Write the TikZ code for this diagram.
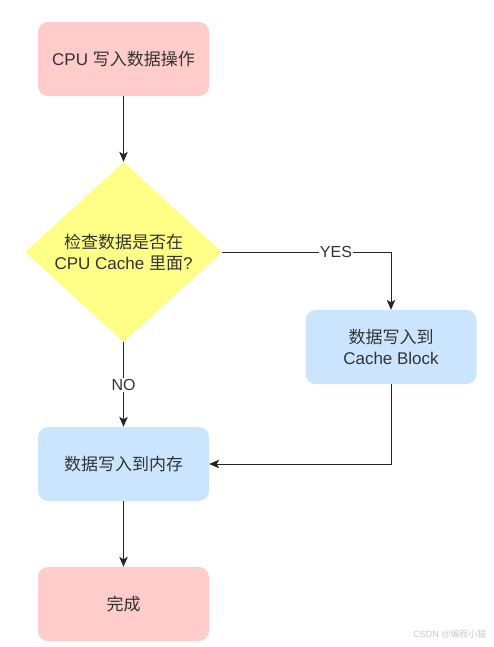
\documentclass[tikz,border=0pt]{standalone}
\usepackage{fontspec}
\setmainfont{Liberation Sans}
\newfontfamily\cjk{Noto Sans CJK SC}
\usetikzlibrary{shapes.geometric,arrows.meta}
\definecolor{pinkfill}{HTML}{FFCCCC}
\definecolor{bluefill}{HTML}{CCE5FF}
\definecolor{yellowfill}{HTML}{FFFF88}
\definecolor{txt}{HTML}{333333}
\definecolor{wm}{HTML}{C8C8C8}
\begin{document}
\begin{tikzpicture}[x=1pt,y=-1pt,
  box/.style={rectangle,rounded corners=10pt,minimum width=171pt,minimum height=74pt,inner sep=0pt,align=center,text=txt,font=\fontsize{17}{21}\selectfont},
  pinkbox/.style={box,fill=pinkfill},
  bluebox/.style={box,fill=bluefill},
  decision/.style={diamond,fill=yellowfill,minimum width=197pt,minimum height=180pt,inner sep=0pt,align=center,text=txt,font=\fontsize{17}{21}\selectfont},
  conn/.style={draw=black!85,line width=0.9pt,-{Stealth[length=10pt,width=8.5pt,inset=2.5pt]}},
  lbl/.style={fill=white,text=txt,inner sep=1pt,font=\fontsize{16}{18}\selectfont}]
\useasboundingbox (0,0) rectangle (493,647);
\node[pinkbox] (start) at (123.5,59) {CPU {\cjk 写入数据操作}};
\node[decision] (check) at (123.5,252) {{\cjk 检查数据是否在}\\CPU Cache {\cjk 里面}?};
\node[bluebox] (cache) at (391,347) {{\cjk 数据写入到}\\Cache Block};
\node[bluebox] (mem) at (123.5,464) {{\cjk 数据写入到内存}};
\node[pinkbox] (done) at (123.5,604) {{\cjk 完成}};
\coordinate (yc) at (391,252);
\coordinate (mc) at (391,464);
\draw[conn] (start) -- (check);
\draw[conn] (check.east) -- (yc) -- (cache.north);
\node[lbl] (yes) at (336,252) {YES};
\draw[conn] (check.south) -- (mem.north);
\node[lbl] (no) at (123.5,385) {NO};
\draw[conn] (cache.south) -- (mc) -- (mem.east);
\draw[conn] (mem) -- (done);
\node[text=wm,font=\fontsize{9}{10}\selectfont,anchor=east] (mark) at (490,634) {CSDN @{\cjk 编程小猫}};
\end{tikzpicture}
\end{document}
